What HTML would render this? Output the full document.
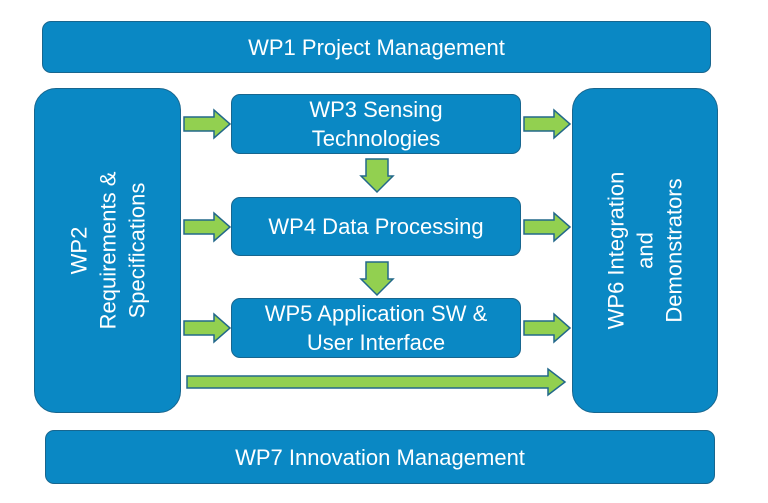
<!DOCTYPE html>
<html><head><style>
body{margin:0;width:768px;height:503px;background:#fff;overflow:hidden;font-family:"Liberation Sans",sans-serif}
.b{position:absolute;background:#0a88c4;border:1.5px solid #17668f;box-sizing:border-box;color:#fff;display:flex;align-items:center;justify-content:center;text-align:center;font-size:22px;line-height:29px}
.v{transform:rotate(-90deg);white-space:nowrap}
svg{position:absolute;left:0;top:0}
</style></head><body>
<div class="b" style="left:42px;top:21px;width:669px;height:52px;border-radius:9px">WP1 Project Management</div>
<div class="b" style="left:34px;top:88px;width:147px;height:325px;border-radius:22px"><div class="v">WP2<br>Requirements &amp;<br>Specifications</div></div>
<div class="b" style="left:231px;top:94px;width:290px;height:60px;border-radius:9px">WP3 Sensing<br>Technologies</div>
<div class="b" style="left:231px;top:197px;width:290px;height:59px;border-radius:9px">WP4 Data Processing</div>
<div class="b" style="left:231px;top:298px;width:290px;height:60px;border-radius:9px">WP5 Application SW &amp;<br>User Interface</div>
<div class="b" style="left:572px;top:88px;width:146px;height:325px;border-radius:22px"><div class="v">WP6 Integration<br>and<br>Demonstrators</div></div>
<div class="b" style="left:45px;top:430px;width:670px;height:54px;border-radius:9px">WP7 Innovation Management</div>
<svg width="768" height="503">
<defs>
<g id="r"><polygon points="0,-7 30,-7 30,-14 46,0 30,14 30,7 0,7" fill="#92d050" stroke="#22688a" stroke-width="1.5"/></g>
<g id="d"><polygon points="-11,0 11,0 11,17 16,17 0,33 -16,17 -11,17" fill="#92d050" stroke="#22688a" stroke-width="1.5"/></g>
</defs>
<use href="#r" x="184" y="124"/><use href="#r" x="184" y="227"/><use href="#r" x="184" y="328"/>
<use href="#r" x="524" y="124"/><use href="#r" x="524" y="227"/><use href="#r" x="524" y="328"/>
<use href="#d" x="377" y="159"/><use href="#d" x="377" y="262"/>
<polygon points="187,376 548,376 548,369 565,382 548,395 548,388 187,388" fill="#92d050" stroke="#22688a" stroke-width="1.5"/>
</svg>
</body></html>
